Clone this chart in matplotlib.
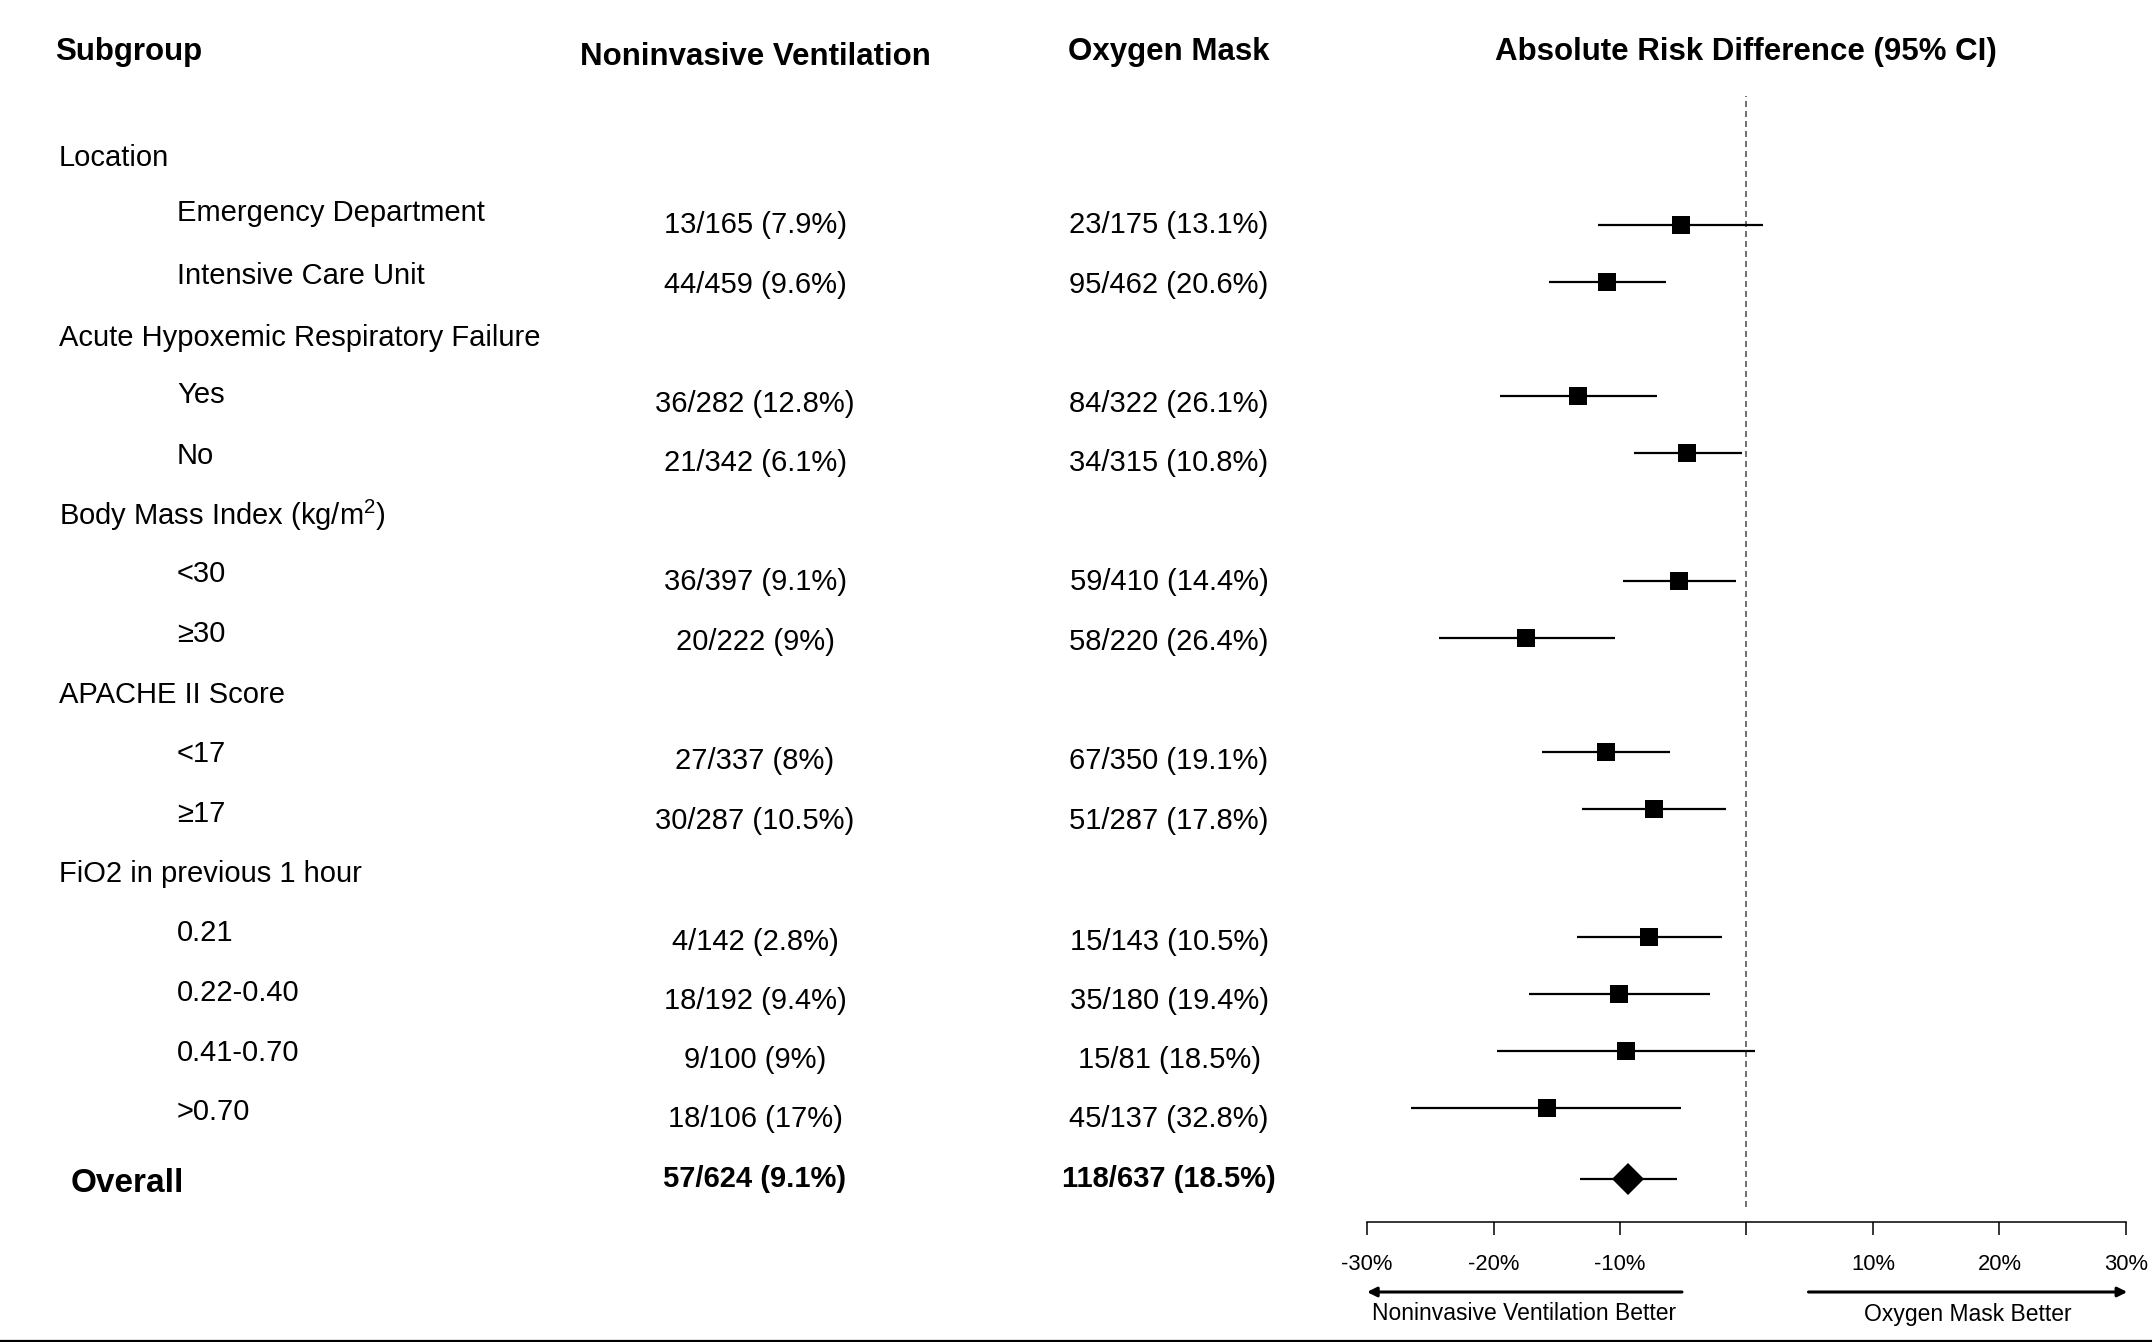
import matplotlib
matplotlib.use("Agg")
import matplotlib.pyplot as plt
from matplotlib.lines import Line2D

plt.rcParams['font.family'] = ['Liberation Sans', 'DejaVu Sans']
plt.rcParams['mathtext.fontset'] = 'custom'
plt.rcParams['mathtext.rm'] = 'Liberation Sans'
plt.rcParams['mathtext.it'] = 'Liberation Sans:italic'
plt.rcParams['mathtext.bf'] = 'Liberation Sans:bold'

# ---------------- data ----------------
col_headers = ["Subgroup", "Noninvasive Ventilation", "Oxygen Mask",
               "Absolute Risk Difference (95% CI)"]
group_headers = ["Location", "Acute Hypoxemic Respiratory Failure",
                 "Body Mass Index (kg/m$^{\\mathrm{2}}$)", "APACHE II Score",
                 "FiO2 in previous 1 hour"]
subgroup_labels = ["Emergency Department", "Intensive Care Unit", "Yes", "No",
                   "<30", "\u226530", "<17", "\u226517", "0.21", "0.22-0.40",
                   "0.41-0.70", ">0.70"]
niv_events = [13, 44, 36, 21, 36, 20, 27, 30, 4, 18, 9, 18]
niv_total = [165, 459, 282, 342, 397, 222, 337, 287, 142, 192, 100, 106]
niv_pct = ["7.9", "9.6", "12.8", "6.1", "9.1", "9", "8", "10.5", "2.8", "9.4", "9", "17"]
om_events = [23, 95, 84, 34, 59, 58, 67, 51, 15, 35, 15, 45]
om_total = [175, 462, 322, 315, 410, 220, 350, 287, 143, 180, 81, 137]
om_pct = ["13.1", "20.6", "26.1", "10.8", "14.4", "26.4", "19.1", "17.8", "10.5",
          "19.4", "18.5", "32.8"]
ard_est = [-5.2, -11.0, -13.3, -4.7, -5.3, -17.4, -11.1, -7.3, -7.7, -10.1, -9.5, -15.8]
ard_lo = [-11.75, -15.6, -19.5, -8.9, -9.75, -24.3, -16.2, -13.0, -13.4, -17.2, -19.7, -26.5]
ard_hi = [1.3, -6.4, -7.1, -0.35, -0.85, -10.4, -6.05, -1.6, -1.9, -2.9, 0.7, -5.2]
overall_label = "Overall"
overall_niv = "57/624 (9.1%)"
overall_om = "118/637 (18.5%)"
overall_est, overall_lo, overall_hi = -9.4, -13.2, -5.5
tick_vals = [-30, -20, -10, 0, 10, 20, 30]
tick_labels = ["-30%", "-20%", "-10%", "", "10%", "20%", "30%"]
favour_left = "Noninvasive Ventilation Better"
favour_right = "Oxygen Mask Better"

# ---------------- layout (pixel rows of the canvas) ----------------
W, H = 2152, 1342
header_y = [158, 338, 515, 695, 874]
label_y = [213, 276, 395, 456, 574, 634, 754, 814, 933, 993, 1053, 1112]
point_y = [225, 282, 396, 453, 581, 638, 752, 809, 937, 994, 1051, 1108]
value_y = [225, 285, 404, 463, 582, 642, 761, 821, 942, 1001, 1060, 1119]
overall_y = 1179
axis_y = 1221.5

fig = plt.figure(figsize=(W / 100, H / 100), dpi=100)
fig.patch.set_facecolor('white')

ax_t = fig.add_axes([0, 0, 1, 1])
ax_t.set_xlim(0, W)
ax_t.set_ylim(H, 0)
ax_t.axis('off')

x0_px, x1_px = 1367, 2126
ax_f = fig.add_axes([x0_px / W, 0, (x1_px - x0_px) / W, 1], facecolor='none')
ax_f.set_xlim(-30, 30)
ax_f.set_ylim(H, 0)
for s in ['top', 'left', 'right']:
    ax_f.spines[s].set_visible(False)
ax_f.spines['bottom'].set_position(('data', axis_y))
ax_f.spines['bottom'].set_linewidth(1.1)
ax_f.set_xticks(tick_vals)
ax_f.set_xticklabels(tick_labels)
ax_f.tick_params(axis='x', direction='out', length=9.5, width=1.1, pad=14,
                 labelsize=15.8, colors='black')
ax_f.set_yticks([])

# column headers
hfs = 22.5
ax_t.text(55, 52, col_headers[0], ha='left', va='center', fontsize=hfs, fontweight='bold')
ax_t.text(755, 57, col_headers[1], ha='center', va='center', fontsize=hfs, fontweight='bold')
ax_t.text(1169, 52, col_headers[2], ha='center', va='center', fontsize=hfs, fontweight='bold')
ax_t.text(1746, 52, col_headers[3], ha='center', va='center', fontsize=hfs, fontweight='bold')

fs = 21
for txt, y in zip(group_headers, header_y):
    ax_t.text(59, y, txt, ha='left', va='center', fontsize=fs)

for i, lab in enumerate(subgroup_labels):
    ax_t.text(177, label_y[i], lab, ha='left', va='center', fontsize=fs)
    ax_t.text(755, value_y[i], f"{niv_events[i]}/{niv_total[i]} ({niv_pct[i]}%)",
              ha='center', va='center', fontsize=fs)
    ax_t.text(1169, value_y[i], f"{om_events[i]}/{om_total[i]} ({om_pct[i]}%)",
              ha='center', va='center', fontsize=fs)

ax_t.text(71, overall_y + 4, overall_label, ha='left', va='center', fontsize=24, fontweight='bold')
ax_t.text(755, overall_y, overall_niv, ha='center', va='center', fontsize=fs, fontweight='bold')
ax_t.text(1169, overall_y, overall_om, ha='center', va='center', fontsize=fs, fontweight='bold')

# reference line at zero
ax_f.axvline(0, ymin=1 - 1207 / H, ymax=1 - 96 / H, color='#555555', lw=1.2,
             dashes=(3.6, 2.4), zorder=1)

# confidence intervals and estimates
ax_f.hlines(point_y, ard_lo, ard_hi, color='black', lw=1.6, zorder=2)
ax_f.plot(ard_est, point_y, linestyle='none', marker='s', ms=13.5, color='black',
          mew=0, zorder=3)
ax_f.hlines([overall_y], [overall_lo], [overall_hi], color='black', lw=1.6, zorder=2)
ax_f.plot([overall_est], [overall_y], linestyle='none', marker='D', ms=16.5,
          color='black', mew=0, zorder=3)

# favour arrows
arrow_y = 1292
ap = dict(arrowstyle='-|>', color='black', lw=2.2, mutation_scale=14,
          shrinkA=0, shrinkB=0)
ax_f.annotate('', xy=(-30, arrow_y), xytext=(-5.1, arrow_y), arrowprops=ap,
              annotation_clip=False)
ax_f.annotate('', xy=(30.1, arrow_y), xytext=(4.9, arrow_y), arrowprops=ap,
              annotation_clip=False)
ax_f.text(-17.55, 1314, favour_left, ha='center', va='center', fontsize=16.5)
ax_f.text(17.5, 1314, favour_right, ha='center', va='center', fontsize=16.5)

# bottom rule
fig.add_artist(Line2D([0, 1], [1.5 / H, 1.5 / H], transform=fig.transFigure,
                      color='black', lw=1.6))

fig.savefig('out.png', dpi=100, facecolor='white')
